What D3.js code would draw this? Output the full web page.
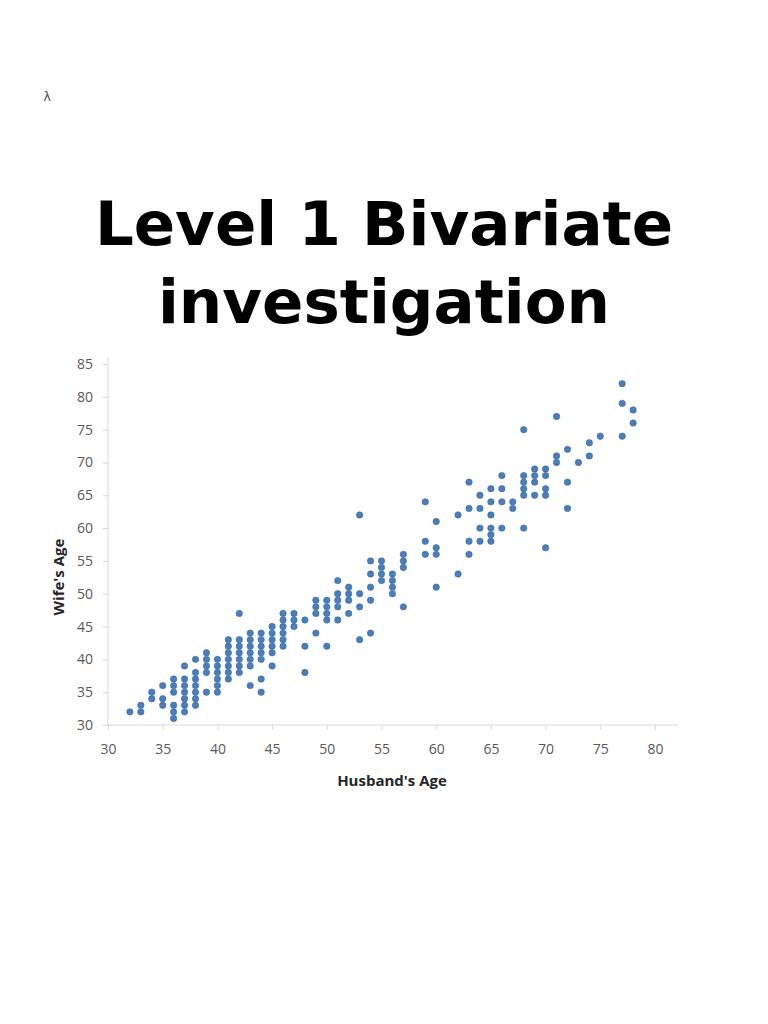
<!DOCTYPE html>
<html>
<head>
<meta charset="utf-8">
<script src="https://cdn.jsdelivr.net/npm/d3@7"></script>
<style>
  body { margin: 0; background: #fff; }
  svg { display: block; }
</style>
</head>
<body>
<div id="chart"></div>
<script>
(function(){
  var width = 768,
    height = 1024;

  // husband's age -> list of wife's ages
  var husbandAges = [32, 33, 34, 35, 36, 37, 38, 39, 40, 41, 42, 43, 44, 45, 46, 47, 48, 49, 50,
    51, 52, 53, 54, 55, 56, 57, 59, 60, 62, 63, 64, 65, 66, 67, 68, 69, 70, 71, 72, 73, 74, 75, 77, 78];
  var wifeAges = [
    [32],
    [32, 33],
    [34, 35],
    [33, 34, 36],
    [31, 32, 33, 35, 36, 37],
    [32, 33, 34, 35, 36, 37, 39],
    [33, 34, 35, 36, 37, 38, 40],
    [35, 38, 39, 40, 41],
    [35, 36, 37, 38, 39, 40],
    [37, 38, 39, 40, 41, 42, 43],
    [38, 39, 40, 41, 42, 43, 47],
    [36, 39, 40, 41, 42, 43, 44],
    [35, 37, 40, 41, 42, 43, 44],
    [39, 41, 42, 43, 44, 45],
    [42, 43, 44, 45, 46, 47],
    [45, 46, 47],
    [38, 42, 46],
    [44, 47, 48, 49],
    [42, 46, 47, 48, 49],
    [46, 48, 49, 50, 52],
    [47, 49, 50, 51],
    [43, 48, 50, 62],
    [44, 49, 51, 53, 55],
    [52, 53, 54, 55],
    [50, 51, 52, 53],
    [48, 54, 55, 56],
    [56, 58, 64],
    [51, 56, 57, 61],
    [53, 62],
    [56, 58, 63, 67],
    [58, 60, 63, 65],
    [58, 59, 60, 62, 64, 66],
    [60, 64, 66, 68],
    [63, 64],
    [60, 65, 66, 67, 68, 75],
    [65, 67, 68, 69],
    [57, 65, 66, 68, 69],
    [70, 71, 77],
    [63, 67, 72],
    [70],
    [71, 73],
    [74],
    [74, 79, 82],
    [76, 78]
  ];
  var xTicks = [30, 35, 40, 45, 50, 55, 60, 65, 70, 75, 80];
  var yTicks = [30, 35, 40, 45, 50, 55, 60, 65, 70, 75, 80, 85];
  var titleLines = ["Level 1 Bivariate", "investigation"];

  var points = [];
  husbandAges.forEach(function(h, i){
    wifeAges[i].forEach(function(w){
      points.push({husband: h, wife: w});
    });
  });

  var svg = d3.select("#chart")
    .append("svg")
    .attr("width", width)
    .attr("height", height);

  // small glyph top left
  svg.append("text")
    .attr("x", 47)
    .attr("y", 101)
    .attr("text-anchor", "middle")
    .attr("font-family", "DejaVu Sans, sans-serif")
    .attr("font-size", 13)
    .attr("fill", "#555")
    .text("λ");

  svg.selectAll(".title")
    .data(titleLines)
    .enter().append("text")
    .attr("class", "title")
    .attr("x", 384)
    .attr("y", function(d, i){ return 245 + i * 78; })
    .attr("text-anchor", "middle")
    .attr("font-family", "DejaVu Sans, sans-serif")
    .attr("font-weight", "bold")
    .attr("font-size", 61)
    .attr("fill", "#000")
    .text(function(d){ return d; });

  var x = d3.scaleLinear().domain([30, 80]).range([108, 655]);
  var y = d3.scaleLinear().domain([30, 85]).range([725, 364]);

  var axisColor = "#d9d9d9",
    tickText = "#595959";

  // axis lines run a bit past the last tick, like the plot area edge
  svg.append("line")
    .attr("x1", x(30)).attr("x2", 678)
    .attr("y1", y(30)).attr("y2", y(30))
    .attr("stroke", axisColor);
  svg.append("line")
    .attr("x1", x(30)).attr("x2", x(30))
    .attr("y1", y(30)).attr("y2", 357)
    .attr("stroke", axisColor);

  var xAxis = svg.append("g")
    .attr("transform", "translate(0," + y(30) + ")")
    .call(d3.axisBottom(x).tickValues(xTicks).tickSize(5).tickPadding(14));
  var yAxis = svg.append("g")
    .attr("transform", "translate(" + x(30) + ",0)")
    .call(d3.axisLeft(y).tickValues(yTicks).tickSize(5).tickPadding(10));

  [xAxis, yAxis].forEach(function(g){
    g.select(".domain").remove();
    g.selectAll(".tick line").attr("stroke", axisColor);
    g.selectAll(".tick text")
      .attr("fill", tickText)
      .attr("font-family", "Open Sans, sans-serif")
      .attr("font-size", 14);
  });

  svg.append("text")
    .attr("x", 392)
    .attr("y", 786)
    .attr("text-anchor", "middle")
    .attr("font-family", "Open Sans, sans-serif")
    .attr("font-weight", "bold")
    .attr("font-size", 15)
    .attr("fill", "#262626")
    .text("Husband's Age");

  svg.append("text")
    .attr("transform", "translate(64,577) rotate(-90)")
    .attr("text-anchor", "middle")
    .attr("font-family", "Open Sans, sans-serif")
    .attr("font-weight", "bold")
    .attr("font-size", 15)
    .attr("fill", "#262626")
    .text("Wife's Age");

  svg.selectAll(".dot")
    .data(points)
    .enter().append("circle")
    .attr("class", "dot")
    .attr("cx", function(d){ return x(d.husband); })
    .attr("cy", function(d){ return y(d.wife); })
    .attr("r", 3.2)
    .attr("fill", "#4a7ebb")
    .attr("stroke", "#3b6aa3")
    .attr("stroke-width", 0.6);
})();
</script>
</body>
</html>
